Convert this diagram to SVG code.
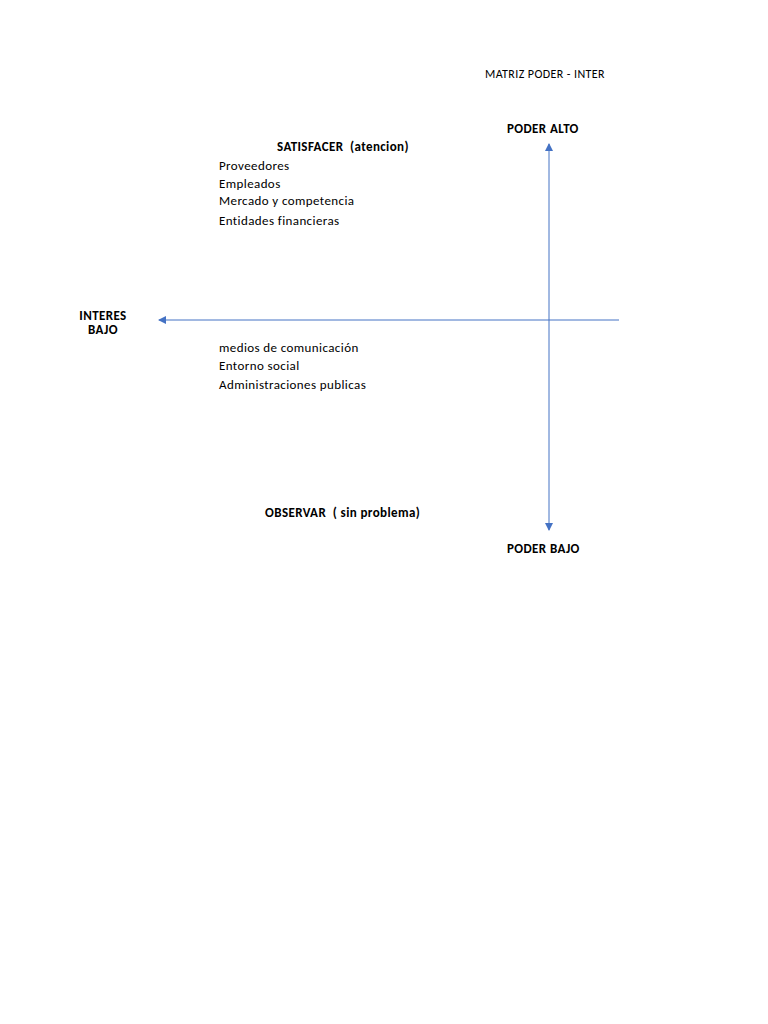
<svg xmlns="http://www.w3.org/2000/svg" width="768" height="1024" viewBox="0 0 768 1024" xml:space="preserve">
<style>
text{font-family:Carlito,"Liberation Sans",sans-serif;font-size:13px;letter-spacing:0.4px;fill:#000;white-space:pre}
.b{font-weight:bold}
.ax{stroke:#4472c4;stroke-width:1;fill:none}
</style>
<defs><marker id="a" markerWidth="8" markerHeight="8" refX="7" refY="4" orient="auto" markerUnits="userSpaceOnUse"><path d="M0,0 L8,4 L0,8 z" fill="#4472c4"/></marker></defs>
<rect width="768" height="1024" fill="#fff"/>
<g id="connectors">
<line class="ax" x1="549" y1="320" x2="549" y2="144" marker-end="url(#a)"/>
<line class="ax" x1="549" y1="320" x2="549" y2="530" marker-end="url(#a)"/>
<line class="ax" x1="619" y1="320" x2="159" y2="320" marker-end="url(#a)"/>
</g>
<g id="title"><text x="485" y="78" style="font-size:12px">MATRIZ PODER - INTER</text></g>
<g id="poder-alto"><text class="b" x="507" y="133">PODER ALTO</text></g>
<g id="poder-bajo"><text class="b" x="507" y="553">PODER BAJO</text></g>
<g id="interes-bajo"><text class="b" x="103" y="320" text-anchor="middle">INTERES</text><text class="b" x="103" y="334" text-anchor="middle">BAJO</text></g>
<g id="satisfacer"><text class="b" x="277" y="151">SATISFACER  (atencion)</text>
<text x="219" y="170">Proveedores</text><text x="219" y="188">Empleados</text><text x="219" y="205">Mercado y competencia</text><text x="219" y="225">Entidades financieras</text></g>
<g id="medios"><text x="219" y="352">medios de comunicación</text><text x="219" y="370">Entorno social</text><text x="219" y="389">Administraciones publicas</text></g>
<g id="observar"><text class="b" x="265" y="517">OBSERVAR  ( sin problema)</text></g>
</svg>
